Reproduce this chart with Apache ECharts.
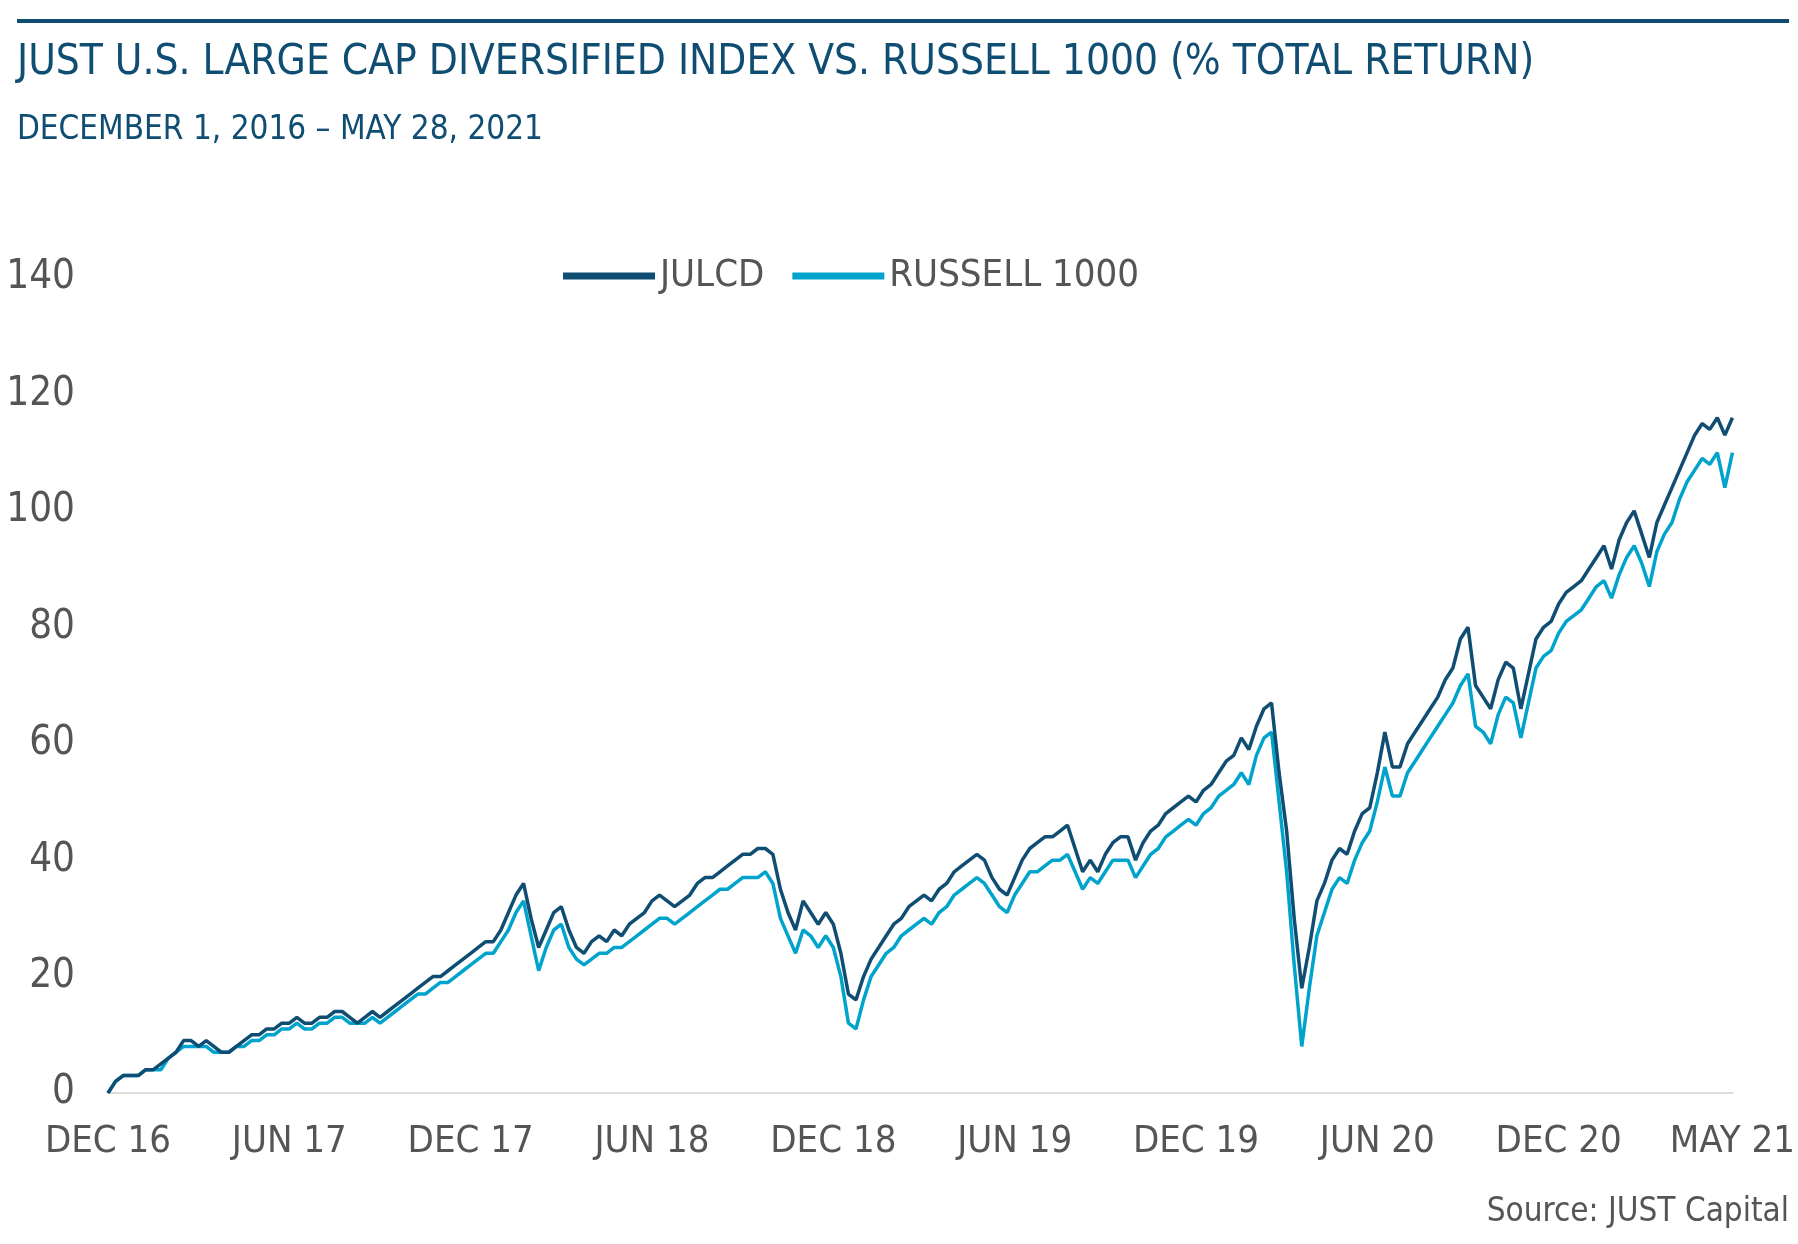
<!DOCTYPE html>
<html>
<head>
<meta charset="utf-8">
<script src="https://cdn.jsdelivr.net/npm/echarts@6/dist/echarts.min.js"></script>
<style>html,body{margin:0;padding:0;background:#fff}#chartmain{width:1798px;height:1244px}</style>
</head>
<body>
<div id="chartmain"></div>
<script>
// month labels, 4 points per month (Dec 2016 .. May 2021)
var months = ['DEC 16','JAN 17','FEB 17','MAR 17','APR 17','MAY 17','JUN 17','JUL 17','AUG 17','SEP 17','OCT 17','NOV 17',
    'DEC 17','JAN 18','FEB 18','MAR 18','APR 18','MAY 18','JUN 18','JUL 18','AUG 18','SEP 18','OCT 18','NOV 18',
    'DEC 18','JAN 19','FEB 19','MAR 19','APR 19','MAY 19','JUN 19','JUL 19','AUG 19','SEP 19','OCT 19','NOV 19',
    'DEC 19','JAN 20','FEB 20','MAR 20','APR 20','MAY 20','JUN 20','JUL 20','AUG 20','SEP 20','OCT 20','NOV 20',
    'DEC 20','JAN 21','FEB 21','MAR 21','APR 21','MAY 21'];
var tickLabels = ['DEC 16','JUN 17','DEC 17','JUN 18','DEC 18','JUN 19','DEC 19','JUN 20','DEC 20','MAY 21'];

var julcd = [0,2,3,3, 3,4,4,5, 6,7,9,9, 8,9,8,7, 7,8,9,10, 10,11,11,12, 12,13,12,12, 13,13,14,14, 13,12,13,14, 13,14,15,16, 17,18,19,20, 20,21,22,23,
    24,25,26,26, 28,31,34,36, 30,25,28,31, 32,28,25,24, 26,27,26,28, 27,29,30,31, 33,34,33,32, 33,34,36,37, 37,38,39,40, 41,41,42,42, 41,35,31,28, 33,31,29,31,
    29,24,17,16, 20,23,25,27, 29,30,32,33, 34,33,35,36, 38,39,40,41, 40,37,35,34, 37,40,42,43, 44,44,45,46, 42,38,40,38, 41,43,44,44, 40,43,45,46, 48,49,50,51,
    50,52,53,55, 57,58,61,59, 63,66,67,55, 45,30,18,25, 33,36,40,42, 41,45,48,49, 55,62,56,56, 60,62,64,66, 68,71,73,78, 80,70,68,66, 71,74,73,66, 72,78,80,81,
    84,86,87,88, 90,92,94,90, 95,98,100,96, 92,98,101,104, 107,110,113,115, 114,116,113,116];
var russell = [0,2,3,3, 3,4,4,4, 6,7,8,8, 8,8,7,7, 7,8,8,9, 9,10,10,11, 11,12,11,11, 12,12,13,13, 12,12,12,13, 12,13,14,15, 16,17,17,18, 19,19,20,21,
    22,23,24,24, 26,28,31,33, 27,21,25,28, 29,25,23,22, 23,24,24,25, 25,26,27,28, 29,30,30,29, 30,31,32,33, 34,35,35,36, 37,37,37,38, 36,30,27,24, 28,27,25,27,
    25,20,12,11, 16,20,22,24, 25,27,28,29, 30,29,31,32, 34,35,36,37, 36,34,32,31, 34,36,38,38, 39,40,40,41, 38,35,37,36, 38,40,40,40, 37,39,41,42, 44,45,46,47,
    46,48,49,51, 52,53,55,53, 58,61,62,50, 38,22,8,18, 27,31,35,37, 36,40,43,45, 50,56,51,51, 55,57,59,61, 63,65,67,70, 72,63,62,60, 65,68,67,61, 67,73,75,76,
    79,81,82,83, 85,87,88,85, 89,92,94,91, 87,93,96,98, 102,105,107,109, 108,110,104,110];

var cats = [];
months.forEach(function (m) { for (var k = 0; k < 4; k++) cats.push(k === 0 ? m : m + '_' + k); });
var lastIdx = cats.length - 1;

var font = '"DejaVu Sans Condensed", "Liberation Sans Narrow", sans-serif';
var myChart = echarts.init(document.getElementById('chartmain'));
var option = {
    animation: false,
    graphic: [
        {type: 'rect', shape: {x: 17, y: 19, width: 1772, height: 4}, style: {fill: '#0f4d73'}},
        {type: 'text', left: 17, top: 42, style: {text: 'JUST U.S. LARGE CAP DIVERSIFIED INDEX VS. RUSSELL 1000 (% TOTAL RETURN)', font: '42px ' + font, fill: '#0f4d73'}},
        {type: 'text', left: 17, top: 114, style: {text: 'DECEMBER 1, 2016 – MAY 28, 2021', font: '33px ' + font, fill: '#0f4d73'}},
        {type: 'text', right: 9, top: 1196, style: {text: 'Source: JUST Capital', font: '33px ' + font, fill: '#555'}}
    ],
    legend: {
        left: 558, top: 252,
        itemWidth: 92, itemHeight: 7, itemGap: 28,
        icon: 'rect',
        textStyle: {fontFamily: font, fontSize: 38, color: '#555'},
        data: ['JULCD', 'RUSSELL 1000']
    },
    grid: {left: 108, right: 52, top: 278, bottom: 151},
    xAxis: {
        type: 'category', data: cats, boundaryGap: false,
        axisLine: {lineStyle: {color: '#ddddd8', width: 2}},
        axisTick: {show: false},
        axisLabel: {
            margin: 30, fontFamily: font, fontSize: 38, color: '#555',
            interval: function (i, v) { return (tickLabels.indexOf(v) >= 0 && v !== 'MAY 21') || i === lastIdx; },
            formatter: function (v, i) { return i === lastIdx ? 'MAY 21' : v; }
        }
    },
    yAxis: {
        type: 'value', min: 0, max: 140, interval: 20,
        splitLine: {show: false},
        axisLine: {show: false}, axisTick: {show: false},
        axisLabel: {margin: 33, fontFamily: font, fontSize: 40, color: '#555'}
    },
    series: [
        {name: 'JULCD', type: 'line', data: julcd, showSymbol: false, lineStyle: {width: 3.5, color: '#0f4d73'}, itemStyle: {color: '#0f4d73'}, z: 3},
        {name: 'RUSSELL 1000', type: 'line', data: russell, showSymbol: false, lineStyle: {width: 3.5, color: '#00a3cc'}, itemStyle: {color: '#00a3cc'}, z: 2}
    ]
};
myChart.setOption(option);
</script>
</body>
</html>
